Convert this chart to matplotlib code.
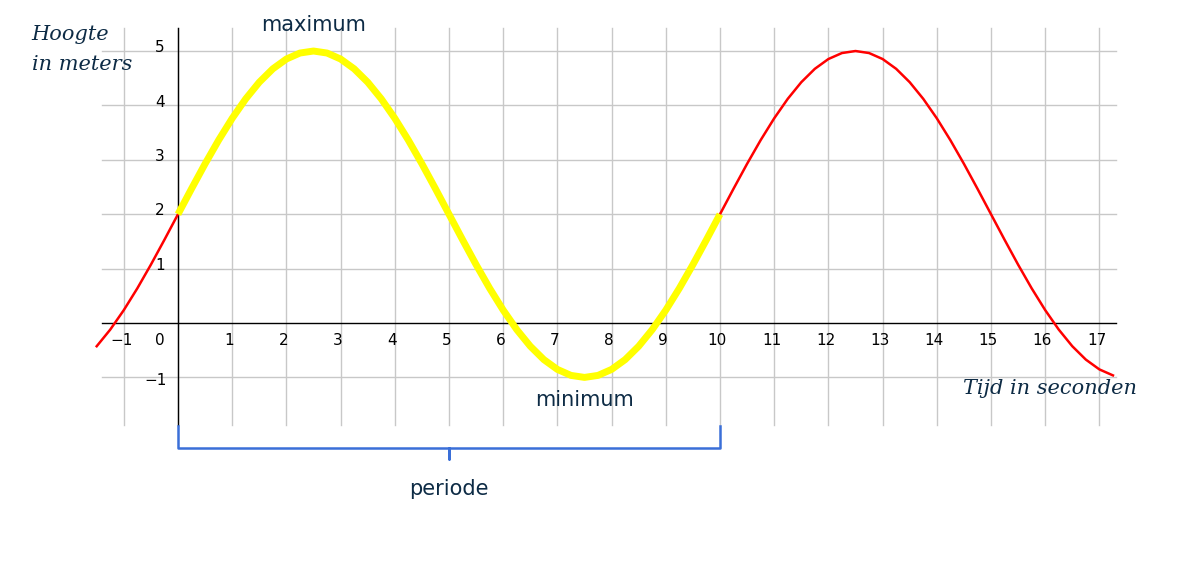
import matplotlib
matplotlib.use("Agg")
import matplotlib.pyplot as plt

# time (s), step 0.25, from -1.5 to 17.25
times = [-1.5 + 0.25 * i for i in range(76)]
heights = [-0.427, -0.121, 0.237, 0.638, 1.073, 1.531,
           2.0, 2.469, 2.927, 3.362, 3.763, 4.121, 4.427, 4.673, 4.853, 4.963,
           5.0, 4.963, 4.853, 4.673, 4.427, 4.121, 3.763, 3.362, 2.927, 2.469,
           2.0, 1.531, 1.073, 0.638, 0.237, -0.121, -0.427, -0.673, -0.853, -0.963,
           -1.0, -0.963, -0.853, -0.673, -0.427, -0.121, 0.237, 0.638, 1.073, 1.531,
           2.0, 2.469, 2.927, 3.362, 3.763, 4.121, 4.427, 4.673, 4.853, 4.963,
           5.0, 4.963, 4.853, 4.673, 4.427, 4.121, 3.763, 3.362, 2.927, 2.469,
           2.0, 1.531, 1.073, 0.638, 0.237, -0.121, -0.427, -0.673, -0.853, -0.963]
period_start, period_end = 0, 10
x_ticks = list(range(-1, 18))
y_ticks = [-1, 1, 2, 3, 4, 5]

fig = plt.figure(figsize=(12, 5.87), dpi=100)
ax = fig.add_axes([0, 0, 1, 1])
ax.set_xlim(-3.284, 18.856)
ax.set_ylim(-4.853, 5.938)
ax.axis("off")

grid_c = "#c8c8c8"
for x in x_ticks:
    ax.plot([x, x], [-1.875, 5.42], color=grid_c, lw=1, zorder=1)
for y in y_ticks:
    ax.plot([-1.4, 17.3], [y, y], color=grid_c, lw=1, zorder=1)
ax.plot([-1.4, 17.3], [0, 0], color="black", lw=1, zorder=2)
ax.plot([0, 0], [-1.875, 5.42], color="black", lw=1, zorder=2)

for x in x_ticks:
    if x == 0:
        ax.text(-0.33, -0.33, "0", ha="center", va="center", fontsize=11)
    else:
        ax.text(x - 0.05, -0.33, str(x).replace("-", "\u2212"), ha="center", va="center", fontsize=11)
for y in y_ticks:
    ax.text(-0.33 if y > 0 else -0.42, y + 0.06 if y > 0 else y - 0.05,
            str(y).replace("-", "\u2212"), ha="center", va="center", fontsize=11)

ax.plot(times, heights, color="#ff0000", lw=1.8, zorder=3)
yt = [t for t in times if period_start <= t <= period_end]
yh = [h for t, h in zip(times, heights) if period_start <= t <= period_end]
ax.plot(yt, yh, color="#ffff00", lw=5, zorder=4, solid_capstyle="butt")

navy = "#0d2b45"
ax.text(-2.7, 5.3, "Hoogte", fontsize=15, style="italic", family="DejaVu Serif", color=navy, va="center")
ax.text(-2.7, 4.75, "in meters", fontsize=15, style="italic", family="DejaVu Serif", color=navy, va="center")
ax.text(17.7, -1.2, "Tijd in seconden", fontsize=15, style="italic", family="DejaVu Serif",
        color=navy, ha="right", va="center")
ax.text(2.5, 5.48, "maximum", fontsize=15, ha="center", va="center", color=navy)
ax.text(7.5, -1.42, "minimum", fontsize=15, ha="center", va="center", color=navy)
ax.text(5.0, -3.05, "periode", fontsize=15, ha="center", va="center", color=navy)

# brace
bc = "#3a6fd8"
ax.plot([0, 0, 5, 5, 5, 10, 10], [-1.9, -2.3, -2.3, -2.5, -2.3, -2.3, -1.9],
        color=bc, lw=1.8, solid_joinstyle="round")

fig.savefig("out.png", dpi=100)
